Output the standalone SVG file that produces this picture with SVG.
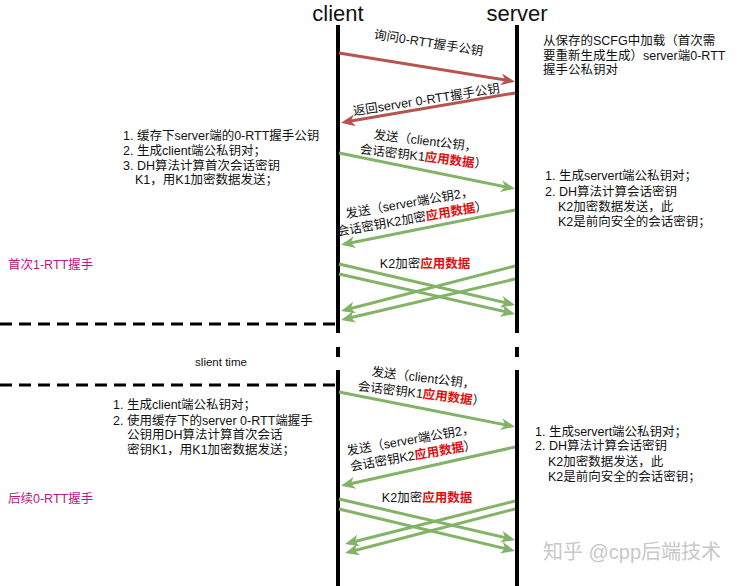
<svg xmlns="http://www.w3.org/2000/svg" width="752" height="586" viewBox="0 0 752 586">
<defs>
<style>
text{font-family:"Liberation Sans","Noto Sans CJK SC",sans-serif;fill:#111;}
.t{font-size:22px;text-anchor:middle;}
.s{font-size:12.5px;}
.l{font-size:12.5px;text-anchor:middle;}
.hl{fill:#e01010;font-weight:bold;}
.ph{font-size:12.5px;fill:#c0167a;}
.life{stroke:#000;stroke-width:4;fill:none;}
.red{stroke:#b85450;stroke-width:3;fill:none;marker-end:url(#ar);}
.grn{stroke:#82b366;stroke-width:3;fill:none;marker-end:url(#ag);}
.dash{stroke:#000;stroke-width:3;stroke-dasharray:12 7;fill:none;}
</style>
<marker id="ar" viewBox="0 0 14 12" refX="10" refY="6" markerWidth="14" markerHeight="12" markerUnits="userSpaceOnUse" orient="auto"><path d="M0,0 L14,6 L0,12 L4,6 z" fill="#b85450"/></marker>
<marker id="ag" viewBox="0 0 14 12" refX="10" refY="6" markerWidth="14" markerHeight="12" markerUnits="userSpaceOnUse" orient="auto"><path d="M0,0 L14,6 L0,12 L4,6 z" fill="#82b366"/></marker>
</defs>
<rect width="752" height="586" fill="#fff"/>
<g id="client">
<text class="t" x="338" y="21">client</text>
<path class="life" d="M338,25 V333 M338,347 V357 M338,370 V586"/>
</g>
<g id="server">
<text class="t" x="517" y="21">server</text>
<path class="life" d="M517,25 V333 M517,347 V357 M517,370 V586"/>
</g>
<g id="connectors">
<line class="red" x1="339" y1="53" x2="511" y2="81"/>
<line class="red" x1="515" y1="93" x2="345" y2="122"/>
<line class="grn" x1="339" y1="153" x2="511" y2="188"/>
<line class="grn" x1="515" y1="210" x2="345" y2="244"/>
<line class="grn" x1="339" y1="264" x2="511" y2="304"/>
<line class="grn" x1="339" y1="274" x2="511" y2="313"/>
<line class="grn" x1="515" y1="266" x2="345" y2="310"/>
<line class="grn" x1="515" y1="279" x2="345" y2="319"/>
<line class="grn" x1="339" y1="392" x2="511" y2="426"/>
<line class="grn" x1="515" y1="447" x2="345" y2="485"/>
<line class="grn" x1="339" y1="499" x2="511" y2="539"/>
<line class="grn" x1="339" y1="509" x2="511" y2="550"/>
<line class="grn" x1="515" y1="501" x2="349" y2="543"/>
<line class="grn" x1="515" y1="509" x2="349" y2="552"/>
<line class="dash" x1="0" y1="324" x2="337" y2="324"/>
<line class="dash" x1="0" y1="385" x2="337" y2="385"/>
</g>
<g id="labels">
<text class="l" transform="translate(428,47) rotate(9)">询问0-RTT握手公钥</text>
<text class="l" transform="translate(427,104) rotate(-9)">返回server 0-RTT握手公钥</text>
<g transform="translate(424,152) rotate(7)">
<text class="l" x="0" y="-7">发送（client公钥，</text>
<text class="l" x="0" y="9">会话密钥K1<tspan class="hl">应用数据</tspan>）</text>
</g>
<g transform="translate(411,212) rotate(-10)">
<text class="l" x="0" y="-5">发送（server端公钥2，</text>
<text class="l" x="0" y="11">会话密钥K2加密<tspan class="hl">应用数据</tspan>）</text>
</g>
<text class="l" x="425" y="268">K2加密<tspan class="hl">应用数据</tspan></text>
<g transform="translate(422,389) rotate(7)">
<text class="l" x="0" y="-7">发送（client公钥，</text>
<text class="l" x="0" y="9">会话密钥K1<tspan class="hl">应用数据</tspan>）</text>
</g>
<g transform="translate(412,449) rotate(-10)">
<text class="l" x="0" y="-5">发送（server端公钥2，</text>
<text class="l" x="0" y="11">会话密钥K2<tspan class="hl">应用数据</tspan>）</text>
</g>
<text class="l" x="427" y="502">K2加密<tspan class="hl">应用数据</tspan></text>
</g>
<g id="notes">
<text class="s" x="543" y="45">从保存的SCFG中加载（首次需</text>
<text class="s" x="543" y="60">要重新生成生成）server端0-RTT</text>
<text class="s" x="543" y="74">握手公私钥对</text>
<text class="s" x="123" y="140">1. 缓存下server端的0-RTT握手公钥</text>
<text class="s" x="123" y="155">2. 生成client端公私钥对；</text>
<text class="s" x="123" y="170">3. DH算法计算首次会话密钥</text>
<text class="s" x="135" y="184">K1，用K1加密数据发送；</text>
<text class="s" x="545" y="180">1. 生成servert端公私钥对；</text>
<text class="s" x="545" y="196">2. DH算法计算会话密钥</text>
<text class="s" x="558" y="211">K2加密数据发送，此</text>
<text class="s" x="558" y="226">K2是前向安全的会话密钥；</text>
<text class="ph" x="8" y="269">首次1-RTT握手</text>
<text class="s" x="221" y="366" text-anchor="middle" style="font-size:11.5px">slient time</text>
<text class="s" x="113" y="409">1. 生成client端公私钥对；</text>
<text class="s" x="113" y="425">2. 使用缓存下的server 0-RTT端握手</text>
<text class="s" x="127" y="439">公钥用DH算法计算首次会话</text>
<text class="s" x="127" y="454">密钥K1，用K1加密数据发送；</text>
<text class="s" x="535" y="436">1. 生成servert端公私钥对；</text>
<text class="s" x="535" y="450">2. DH算法计算会话密钥</text>
<text class="s" x="548" y="466">K2加密数据发送，此</text>
<text class="s" x="548" y="481">K2是前向安全的会话密钥；</text>
<text class="ph" x="8" y="503">后续0-RTT握手</text>
<text x="543" y="559" style="font-size:20px;fill:#c8c8c8">知乎 @cpp后端技术</text>
</g>
</svg>
